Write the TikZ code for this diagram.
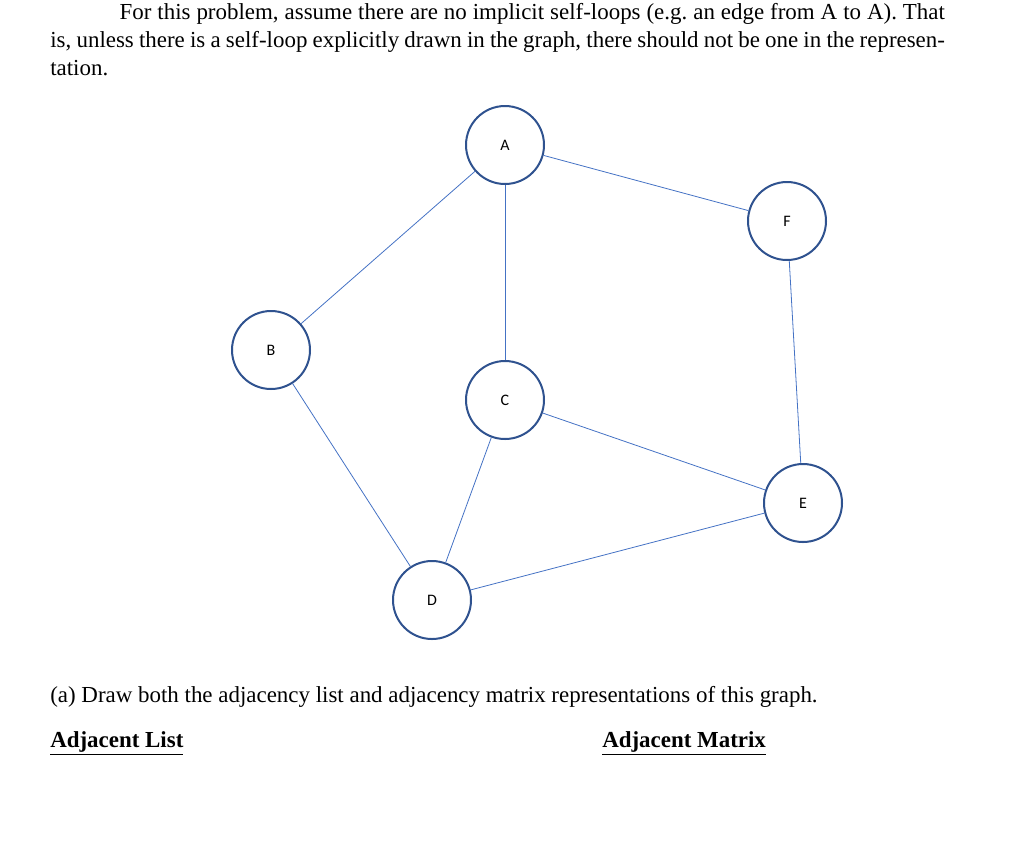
\documentclass[tikz,border=0pt]{standalone}
\usepackage{fontspec}
\setmainfont{Liberation Serif}
\newfontfamily\calib{Carlito}
\begin{document}
\begin{tikzpicture}[x=0.75pt,y=-0.75pt,
  vtx/.style={circle,draw=blue2,line width=1.5pt,fill=white,minimum size=58.5pt,inner sep=0pt,font=\calib\fontsize{12}{14}\selectfont},
  edge/.style={draw=blue1,line width=0.6pt},
  txt/.style={anchor=north west,inner sep=0pt,font=\fontsize{17.2}{21}\selectfont}]
\definecolor{blue2}{HTML}{2F528F}
\definecolor{blue1}{HTML}{4472C4}
\useasboundingbox (0,0) rectangle (1024,840);
\node[txt,text width=671pt,align=justify] (p) at (50,3) {\hspace*{52pt}For this problem, assume there are no implicit self-loops (e.g.\ an edge from A to A). That is, unless there is a self-loop explicitly drawn in the graph, there should not be one in the representation.};
\node[vtx] (A) at (505,145) {A};
\node[vtx] (F) at (787,221) {F};
\node[vtx] (B) at (271,350) {B};
\node[vtx] (C) at (505,400) {C};
\node[vtx] (E) at (803,503) {E};
\node[vtx] (D) at (432,600) {D};
\draw[edge] (A) -- (F);
\draw[edge] (A) -- (B);
\draw[edge] (A) -- (C);
\draw[edge] (B) -- (D);
\draw[edge] (C) -- (D);
\draw[edge] (C) -- (E);
\draw[edge] (F) -- (E);
\draw[edge] (D) -- (E);
\node[txt] (q) at (50,686) {(a) Draw both the adjacency list and adjacency matrix representations of this graph.};
\node[txt] (l) at (50,731) {\textbf{\underline{Adjacent List}}};
\node[txt] (m) at (602,731) {\textbf{\underline{Adjacent Matrix}}};
\end{tikzpicture}
\end{document}
